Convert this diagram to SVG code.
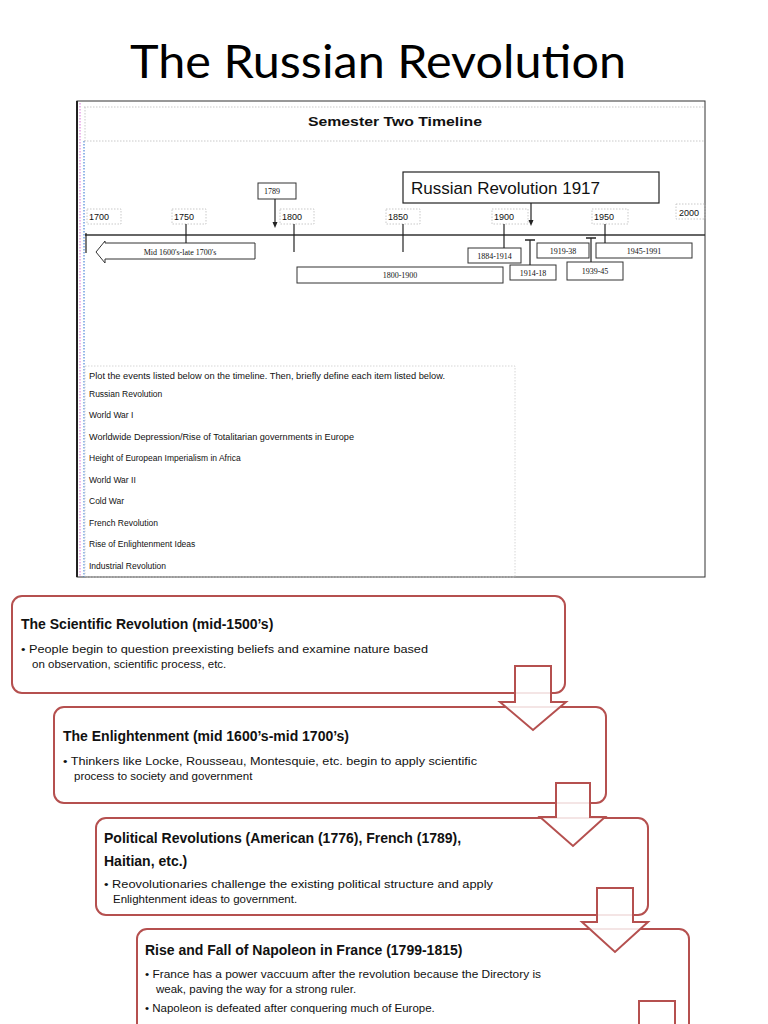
<svg xmlns="http://www.w3.org/2000/svg" width="768" height="1024" viewBox="0 0 768 1024">
<style>
.tl{font-family:"Liberation Sans",Arial,sans-serif;font-size:8.5px;fill:#111}
.yr{font-family:"Liberation Sans",Arial,sans-serif;font-size:9px;fill:#111}
.sm{font-family:"Liberation Serif","Times New Roman",serif;font-size:8px;fill:#111}
.yb{fill:none;stroke:#bbb;stroke-width:0.8;stroke-dasharray:1.5 1.5}
.bx{fill:#fff;stroke:#333;stroke-width:1}
.ln{stroke:#222;stroke-width:1.2;fill:none}
.fb{fill:#fff;stroke:#b5504f;stroke-width:2}
.ar{fill:#fff;fill-opacity:0.85;stroke:#b5504f;stroke-width:2;stroke-linejoin:miter}
.h{font-family:"Liberation Sans",Arial,sans-serif;font-weight:bold;font-size:14px;fill:#111}
.b{font-family:"Liberation Sans",Arial,sans-serif;font-size:11.5px;fill:#111}
</style>
<rect width="768" height="1024" fill="#fff"/>
<text x="378" y="78" text-anchor="middle" font-family="Lato,'Open Sans',sans-serif" font-size="46" textLength="496" lengthAdjust="spacingAndGlyphs" fill="#000">The Russian Revolution</text>

<g id="timeline-frame">
<rect x="77" y="101" width="628" height="476" fill="#fff" stroke="#333" stroke-width="1"/>
<line x1="77" y1="101" x2="77" y2="577" stroke="#222" stroke-width="2"/>
<line x1="80" y1="103" x2="80" y2="577" stroke="#d04cd0" stroke-width="0.8" stroke-dasharray="1.5 1.5"/>
<line x1="84" y1="141" x2="84" y2="577" stroke="#2a6fd0" stroke-width="1" stroke-dasharray="1.5 1.5"/>
<line x1="84" y1="107" x2="705" y2="107" stroke="#bbb" stroke-width="0.8" stroke-dasharray="1.5 1.5"/>
<line x1="84" y1="141" x2="705" y2="141" stroke="#bbb" stroke-width="0.8" stroke-dasharray="1.5 1.5"/>
<line x1="85" y1="107" x2="85" y2="141" stroke="#bbb" stroke-width="0.8" stroke-dasharray="1.5 1.5"/>
<text x="395" y="126" text-anchor="middle" font-family="'Liberation Sans',Arial,sans-serif" font-weight="bold" font-size="12.5" textLength="174" lengthAdjust="spacingAndGlyphs" fill="#111">Semester Two Timeline</text>
<line x1="85" y1="235" x2="705" y2="235" stroke="#333" stroke-width="1.5"/>
<line class="ln" x1="86" y1="233" x2="86" y2="253"/>
</g>

<g id="years">
<rect class="yb" x="87" y="209" width="34" height="15"/><text class="yr" x="89" y="220">1700</text>
<rect class="yb" x="172" y="209" width="34" height="15"/><text class="yr" x="174" y="220">1750</text>
<rect class="yb" x="280" y="209" width="34" height="15"/><text class="yr" x="282" y="220">1800</text>
<rect class="yb" x="386" y="209" width="34" height="15"/><text class="yr" x="388" y="220">1850</text>
<rect class="yb" x="492" y="209" width="36" height="15"/><text class="yr" x="494" y="220">1900</text>
<rect class="yb" x="592" y="209" width="36" height="15"/><text class="yr" x="594" y="220">1950</text>
<rect class="yb" x="676" y="204" width="29" height="15"/><text class="yr" x="679" y="216">2000</text>
</g>

<g id="node-1789"><rect class="bx" x="258" y="183" width="38" height="16"/><text class="sm" x="264" y="194">1789</text></g>
<g id="node-russian-revolution"><rect x="403" y="172" width="256" height="31" fill="#fff" stroke="#222" stroke-width="1.2"/><text x="411" y="194" font-family="'Liberation Sans',Arial,sans-serif" font-size="17" fill="#111">Russian Revolution 1917</text></g>
<g id="node-enlightenment-span"><path d="M255,243 H105 V241 L96,252 L105,263 V259 H255 Z" fill="#fff" stroke="#333" stroke-width="1"/><text class="sm" x="180" y="255" text-anchor="middle">Mid 1600's-late 1700's</text></g>
<g id="node-1800-1900"><rect class="bx" x="297" y="267" width="206" height="16"/><text class="sm" x="400" y="278" text-anchor="middle">1800-1900</text></g>
<g id="node-1884-1914"><rect class="bx" x="468" y="248" width="53" height="15"/><text class="sm" x="494.5" y="259" text-anchor="middle">1884-1914</text></g>
<g id="node-1914-18"><rect class="bx" x="510" y="265" width="46" height="15"/><text class="sm" x="533" y="276" text-anchor="middle">1914-18</text></g>
<g id="node-1919-38"><rect class="bx" x="537" y="243" width="52" height="15"/><text class="sm" x="563" y="254" text-anchor="middle">1919-38</text></g>
<g id="node-1939-45"><rect class="bx" x="567" y="262" width="56" height="18"/><text class="sm" x="595" y="274" text-anchor="middle">1939-45</text></g>
<g id="node-1945-1991"><rect class="bx" x="596" y="243" width="96" height="15"/><text class="sm" x="644" y="254" text-anchor="middle">1945-1991</text></g>

<g id="instructions">
<rect x="85" y="366" width="430" height="211" fill="none" stroke="#ccc" stroke-width="0.8" stroke-dasharray="1.5 1.5"/>
<text class="tl" x="89" y="379" textLength="356" lengthAdjust="spacingAndGlyphs">Plot the events listed below on the timeline.  Then, briefly define each item listed below.</text>
<text class="tl" x="89" y="397">Russian Revolution</text>
<text class="tl" x="89" y="418">World War I</text>
<text class="tl" x="89" y="440" textLength="265" lengthAdjust="spacingAndGlyphs">Worldwide Depression/Rise of Totalitarian governments in Europe</text>
<text class="tl" x="89" y="461">Height of European Imperialism in Africa</text>
<text class="tl" x="89" y="483">World War II</text>
<text class="tl" x="89" y="504">Cold War</text>
<text class="tl" x="89" y="526">French Revolution</text>
<text class="tl" x="89" y="547">Rise of Enlightenment Ideas</text>
<text class="tl" x="89" y="569">Industrial Revolution</text>
</g>

<g id="node-scientific-revolution">
<rect class="fb" x="12" y="596" width="553" height="97" rx="10"/>
<text class="h" x="21" y="629">The Scientific Revolution (mid-1500’s)</text>
<text class="b" x="21" y="653" textLength="407" lengthAdjust="spacingAndGlyphs">• People begin to question preexisting beliefs and examine nature based</text>
<text class="b" x="32" y="668">on observation, scientific process, etc.</text>
</g>
<g id="node-enlightenment">
<rect class="fb" x="54" y="707" width="552" height="96" rx="10"/>
<text class="h" x="63" y="741">The Enlightenment (mid 1600’s-mid 1700’s)</text>
<text class="b" x="63" y="765" textLength="414" lengthAdjust="spacingAndGlyphs">• Thinkers like Locke, Rousseau, Montesquie, etc. begin to apply  scientific</text>
<text class="b" x="74" y="780">process to society and government</text>
</g>
<g id="node-political-revolutions">
<rect class="fb" x="96" y="818" width="552" height="97" rx="10"/>
<text class="h" x="104" y="843">Political Revolutions (American (1776), French (1789),</text>
<text class="h" x="104" y="866">Haitian, etc.)</text>
<text class="b" x="104" y="888" textLength="389" lengthAdjust="spacingAndGlyphs">• Reovolutionaries challenge the existing political structure and apply</text>
<text class="b" x="113" y="903">Enlightenment ideas to government.</text>
</g>
<g id="node-napoleon">
<rect class="fb" x="137" y="929" width="552" height="105" rx="10"/>
<text class="h" x="145" y="955">Rise and Fall of Napoleon in France (1799-1815)</text>
<text class="b" x="145" y="978" textLength="396" lengthAdjust="spacingAndGlyphs">• France has a power vaccuum after the revolution because the Directory is</text>
<text class="b" x="156" y="993">weak, paving the way for a strong ruler.</text>
<text class="b" x="145" y="1012">• Napoleon is defeated after conquering much of Europe.</text>
</g>

<g id="connectors">
<line class="ln" x1="186" y1="224" x2="186" y2="243"/>
<line class="ln" x1="294" y1="224" x2="294" y2="252"/>
<line class="ln" x1="403" y1="224" x2="403" y2="252"/>
<line class="ln" x1="504" y1="224" x2="504" y2="248"/>
<line class="ln" x1="605" y1="224" x2="605" y2="243"/>
<line class="ln" x1="275" y1="199" x2="275" y2="223"/>
<path d="M272.5,222 L277.5,222 L275,228 Z" fill="#222"/>
<line class="ln" x1="531" y1="203" x2="531" y2="221"/>
<path d="M528.5,220 L533.5,220 L531,226 Z" fill="#222"/>
<line class="ln" x1="530" y1="240" x2="530" y2="265"/>
<line x1="525" y1="240" x2="535" y2="240" stroke="#222" stroke-width="1.5"/>
<line class="ln" x1="591" y1="238" x2="591" y2="262"/>
<line x1="586" y1="238" x2="596" y2="238" stroke="#222" stroke-width="1.5"/>
<path class="ar" d="M515,666 H551 V702 H566 L533,730 L500,702 H515 Z"/>
<path class="ar" d="M556,783 H590 V817 H605 L573,846 L540,817 H556 Z"/>
<path class="ar" d="M597,888 H633 V922 H648 L615,952 L582,922 H597 Z"/>
<path class="ar" d="M639,1001 H675 V1030 H639 Z"/>
</g>
</svg>
